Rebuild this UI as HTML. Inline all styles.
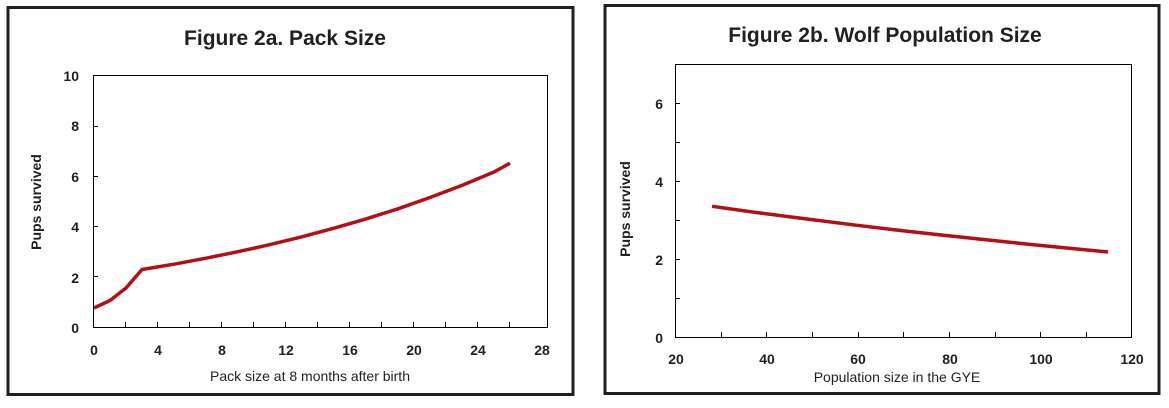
<!DOCTYPE html>
<html><head><meta charset="utf-8"><style>
html,body{margin:0;padding:0;background:#fff;}
svg{display:block;font-family:"Liberation Sans",sans-serif;}
</style></head><body>
<svg width="1169" height="408" viewBox="0 0 1169 408" xmlns="http://www.w3.org/2000/svg">
<rect x="0" y="0" width="1169" height="408" fill="#fff"/>
<!-- Left panel -->
<rect x="8" y="7.5" width="565" height="387" fill="none" stroke="#231f20" stroke-width="3"/>
<text x="285" y="45" font-size="21" font-weight="bold" text-anchor="middle" fill="#231f20">Figure 2a. Pack Size</text>
<rect x="93.5" y="75.5" width="454" height="252" fill="none" stroke="#000" stroke-width="1"/>
<g stroke="#000" stroke-width="1">
<line x1="93" y1="276.5" x2="98" y2="276.5"/><line x1="93" y1="226.5" x2="98" y2="226.5"/><line x1="93" y1="176.5" x2="98" y2="176.5"/><line x1="93" y1="126.5" x2="98" y2="126.5"/>
<line x1="125.5" y1="327" x2="125.5" y2="322"/><line x1="157.5" y1="327" x2="157.5" y2="322"/><line x1="189.5" y1="327" x2="189.5" y2="322"/><line x1="221.5" y1="327" x2="221.5" y2="322"/><line x1="253.5" y1="327" x2="253.5" y2="322"/><line x1="285.5" y1="327" x2="285.5" y2="322"/><line x1="317.5" y1="327" x2="317.5" y2="322"/><line x1="349.5" y1="327" x2="349.5" y2="322"/><line x1="381.5" y1="327" x2="381.5" y2="322"/><line x1="413.5" y1="327" x2="413.5" y2="322"/><line x1="445.5" y1="327" x2="445.5" y2="322"/><line x1="477.5" y1="327" x2="477.5" y2="322"/><line x1="509.5" y1="327" x2="509.5" y2="322"/>
</g>
<g font-size="14" font-weight="bold" fill="#231f20" text-anchor="end">
<text x="79" y="333">0</text><text x="79" y="283">2</text><text x="79" y="232">4</text><text x="79" y="182">6</text><text x="79" y="131">8</text><text x="79" y="81">10</text>
</g>
<g font-size="14" font-weight="bold" fill="#231f20" text-anchor="middle">
<text x="94" y="355">0</text><text x="158" y="355">4</text><text x="222" y="355">8</text><text x="286" y="355">12</text><text x="350" y="355">16</text><text x="414" y="355">20</text><text x="478" y="355">24</text><text x="542" y="355">28</text>
</g>
<text x="310" y="381" font-size="14" text-anchor="middle" fill="#231f20">Pack size at 8 months after birth</text>
<text transform="translate(41,202) rotate(-90)" font-size="14" font-weight="bold" text-anchor="middle" fill="#231f20">Pups survived</text>
<polyline fill="none" stroke="#b30f14" stroke-width="3.5" stroke-linejoin="round" points="94,308 110,300.5 126,288 142,269.5 174,264.2 206,258.2 238,251.7 270,244.6 302,236.8 334,228.2 366,218.9 398,208.8 430,197.5 462,185.4 494,172 510,163.2"/>
<!-- Right panel -->
<rect x="605" y="5.5" width="554" height="388" fill="none" stroke="#231f20" stroke-width="3"/>
<text x="885" y="42" font-size="21" font-weight="bold" text-anchor="middle" fill="#231f20">Figure 2b. Wolf Population Size</text>
<rect x="675.5" y="64.5" width="456" height="273" fill="none" stroke="#000" stroke-width="1"/>
<g stroke="#000" stroke-width="1">
<line x1="675" y1="298.5" x2="680" y2="298.5"/><line x1="675" y1="259.5" x2="680" y2="259.5"/><line x1="675" y1="220.5" x2="680" y2="220.5"/><line x1="675" y1="181.5" x2="680" y2="181.5"/><line x1="675" y1="142.5" x2="680" y2="142.5"/><line x1="675" y1="103.5" x2="680" y2="103.5"/>
<line x1="721.5" y1="337" x2="721.5" y2="332"/><line x1="766.5" y1="337" x2="766.5" y2="332"/><line x1="812.5" y1="337" x2="812.5" y2="332"/><line x1="858.5" y1="337" x2="858.5" y2="332"/><line x1="903.5" y1="337" x2="903.5" y2="332"/><line x1="949.5" y1="337" x2="949.5" y2="332"/><line x1="995.5" y1="337" x2="995.5" y2="332"/><line x1="1040.5" y1="337" x2="1040.5" y2="332"/><line x1="1086.5" y1="337" x2="1086.5" y2="332"/>
</g>
<g font-size="14" font-weight="bold" fill="#231f20" text-anchor="end">
<text x="663" y="343">0</text><text x="663" y="265">2</text><text x="663" y="187">4</text><text x="663" y="109">6</text>
</g>
<g font-size="14" font-weight="bold" fill="#231f20" text-anchor="middle">
<text x="676" y="364">20</text><text x="767" y="364">40</text><text x="858" y="364">60</text><text x="950" y="364">80</text><text x="1041" y="364">100</text><text x="1132" y="364">120</text>
</g>
<text x="897" y="382" font-size="14" text-anchor="middle" fill="#231f20">Population size in the GYE</text>
<text transform="translate(630,209) rotate(-90)" font-size="14" font-weight="bold" text-anchor="middle" fill="#231f20">Pups survived</text>
<polyline fill="none" stroke="#b30f14" stroke-width="3.5" stroke-linejoin="round" points="712,206.3 757,212.6 803,218.5 849,224.3 894,229.7 940,234.9 986,239.8 1031,244.5 1077,249 1108,252"/>
</svg>
</body></html>
